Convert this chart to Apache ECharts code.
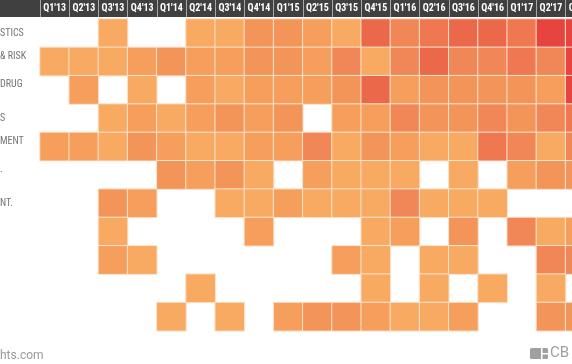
<!DOCTYPE html>
<html>
<head>
<meta charset="utf-8">
<script src="https://cdn.jsdelivr.net/npm/echarts@6/dist/echarts.min.js"></script>
<style>
html,body{margin:0;padding:0;background:#fff;}
#chart{width:572px;height:364px;}
</style>
</head>
<body>
<div id="chart"></div>
<script>
// ---- data ----
const quarters = ["Q1'13","Q2'13","Q3'13","Q4'13","Q1'14","Q2'14","Q3'14","Q4'14","Q1'15","Q2'15","Q3'15","Q4'15","Q1'16","Q2'16","Q3'16","Q4'16","Q1'17","Q2'17","Q3'17"];
const rowLabels = ["STICS","& RISK","DRUG","S","MENT",".","NT.","","","",""];
// deal-activity level per row (0 = no deals)
const row1  = [0,0,1,0,0,1,1,3,3,2,1,6,4,5,6,6,5,7,7];
const row2  = [1,1,1,2,3,2,2,3,3,2,4,1,4,6,4,4,5,4,7];
const row3  = [0,2,0,1,0,2,1,2,2,2,3,6,2,3,3,3,3,2,7];
const row4  = [0,0,1,2,1,2,3,2,3,0,2,2,4,3,3,4,3,4,5];
const row5  = [2,2,1,3,2,1,1,2,2,4,1,3,2,1,1,5,4,1,4];
const row6  = [0,0,0,0,3,2,3,1,0,2,1,1,1,0,1,0,2,3,3];
const row7  = [0,0,3,2,0,0,1,1,2,1,1,1,4,1,1,1,0,0,0];
const row8  = [0,0,1,0,0,0,0,2,0,0,0,1,2,0,3,0,4,1,2];
const row9  = [0,0,2,1,0,0,0,0,0,0,2,1,0,1,1,0,0,4,4];
const row10 = [0,0,0,0,0,1,0,0,0,0,0,1,0,1,0,1,0,1,0];
const row11 = [0,0,0,0,1,0,1,0,2,3,3,2,1,1,2,0,0,3,3];
const rows = [row1,row2,row3,row4,row5,row6,row7,row8,row9,row10,row11];

// ---- style config ----
const levelColors = ['#f8aa62','#f69f5d','#f39459','#f18756','#ef7851','#ec684b','#e7443f'];
const twoLineRows = new Set([1,2,4,5]);
const labelFont = "'Roboto Condensed','Liberation Sans Narrow','DejaVu Sans Condensed',Roboto,sans-serif";

const cells = [];
rows.forEach((r, yi) => r.forEach((v, xi) => { if (v > 0) cells.push([xi, yi, v]); }));

const colW = 29.2, rowH = 28.35;
const chart = echarts.init(document.getElementById('chart'), null, {renderer:'canvas'});
chart.setOption({
  animation: false,
  backgroundColor: '#ffffff',
  grid: [
    {left: 40, top: 19, width: colW * quarters.length, height: rowH * rows.length, outerBoundsMode: 'none', containLabel: false},
    {left: 40, top: 0, width: colW * quarters.length, height: 17, outerBoundsMode: 'none', containLabel: false}
  ],
  xAxis: [
    {
      type: 'category', gridIndex: 0, position: 'top', data: quarters, z: 5,
      axisLine: {show: false}, axisTick: {show: false}, splitLine: {show: false},
      axisLabel: {interval: 0, margin: 10.5, verticalAlign: 'middle', color: '#ffffff',
        fontWeight: 'bold', fontSize: 10, fontFamily: labelFont}
    },
    {
      type: 'category', gridIndex: 1, data: quarters, z: 5,
      axisLine: {show: false}, axisTick: {show: false}, axisLabel: {show: false},
      splitLine: {show: true, interval: 0, lineStyle: {color: '#a8a8a8', width: 1}}
    }
  ],
  yAxis: [
    {
      type: 'category', gridIndex: 0, inverse: true,
      data: rowLabels.map((_, i) => 'row' + i),
      axisLine: {show: false}, axisTick: {show: false}, splitLine: {show: false},
      axisLabel: {
        interval: 0, margin: 40, align: 'left', color: '#747474', fontSize: 10,
        lineHeight: 11, fontFamily: labelFont,
        formatter: (v, i) => twoLineRows.has(i) ? rowLabels[i] + '\n ' : rowLabels[i]
      }
    },
    {
      type: 'category', gridIndex: 1, data: ['h'],
      axisLine: {show: false}, axisTick: {show: false}, axisLabel: {show: false}, splitLine: {show: false}
    }
  ],
  visualMap: {
    show: false, min: 1, max: 7, dimension: 2, seriesIndex: 0,
    inRange: {color: levelColors}
  },
  series: [{
    type: 'heatmap', xAxisIndex: 0, yAxisIndex: 0, data: cells,
    itemStyle: {borderColor: '#fde4cf', borderWidth: 1},
    emphasis: {disabled: true}
  }],
  graphic: [
    {type: 'rect', z: -10, silent: true, shape: {x: 0, y: 0, width: 572, height: 17}, style: {fill: '#404040'}},
    {type: 'text', left: 0, top: 350, silent: true,
      style: {text: 'hts.com', fill: '#9a9a9a', fontSize: 12, fontFamily: "Roboto, sans-serif"}},
    {type: 'group', left: 530, top: 348, silent: true, children: [
      {type: 'rect', shape: {x: 0, y: 0, width: 18, height: 11, r: 1.5}, style: {fill: '#a0a0a0'}},
      {type: 'rect', shape: {x: 11, y: 0, width: 1.5, height: 11}, style: {fill: '#ffffff'}},
      {type: 'rect', shape: {x: 11, y: 5, width: 7, height: 1.5}, style: {fill: '#ffffff'}}
    ]},
    {type: 'text', left: 550, top: 346, silent: true,
      style: {text: 'CB', fill: '#a0a0a0', fontSize: 15, fontFamily: "Roboto, sans-serif"}}
  ]
});
</script>
</body>
</html>
